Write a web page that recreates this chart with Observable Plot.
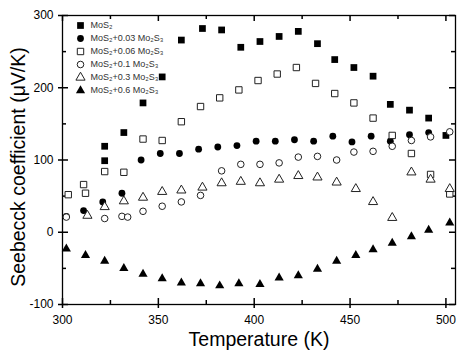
<!DOCTYPE html>
<html>
<head>
<meta charset="utf-8">
<script src="https://cdn.jsdelivr.net/npm/d3@7"></script>
<script src="https://cdn.jsdelivr.net/npm/@observablehq/plot@0.6"></script>
<style>
  html, body { margin: 0; padding: 0; background: #fff; }
  #chart svg { display: block; }
</style>
</head>
<body>
<div id="chart"></div>
<script>
// Tick values
const xMajor = [300, 350, 400, 450, 500];
const xMinor = [325, 375, 425, 475];
const yMajor = [-100, 0, 100, 200, 300];
const yMinor = [-50, 50, 150, 250];

const xLabel = "Temperature (K)";
const yLabel = "Seebecck coefficient (\u03BCV/K)";

// Series labels
const labels = [
  "MoS\u2082",
  "MoS\u2082+0.03 Mo\u2082S\u2083",
  "MoS\u2082+0.06 Mo\u2082S\u2083",
  "MoS\u2082+0.1 Mo\u2082S\u2083",
  "MoS\u2082+0.3 Mo\u2082S\u2083",
  "MoS\u2082+0.6 Mo\u2082S\u2083"
];

// MoS2
const tA = [322,322,332,342,352,362,373,383,393,403,413,423,433,442,452,462,471,481,491,500];
const sA = [99,119,138,179,215,266,282,280,256,264,271,278,261,239,228,216,177,169,158,134];
// MoS2 + 0.03 Mo2S3
const tB = [302,311,321,331,341,351,361,371,381,391,401,411,421,431,441,451,461,471,481,491];
const sB = [22,30,42,54,100,109,109,115,118,120,126,126,128,126,133,125,133,126,135,138];
// MoS2 + 0.06 Mo2S3
const tC = [303,311,312,322,332,342,352,362,372,382,392,402,412,422,432,442,452,462,472,482,492,502];
const sC = [52,66,54,84,83,129,127,153,174,186,197,210,219,228,206,192,179,158,134,109,80,53];
// MoS2 + 0.1 Mo2S3
const tD = [302,322,331,334,342,352,362,372,383,393,403,413,423,433,443,452,462,472,482,492,502];
const sD = [21,19,22,21,29,36,42,51,85,94,94,96,104,105,100,111,112,119,127,132,139];
// MoS2 + 0.3 Mo2S3
const tE = [313,322,332,342,352,362,373,383,393,403,413,423,433,443,453,462,472,482,492,502];
const sE = [23,35,43,48,56,58,62,68,70,68,73,78,76,69,60,42,20,83,73,60];
// MoS2 + 0.6 Mo2S3
const tF = [302,312,322,332,342,352,362,372,382,392,403,413,423,433,443,453,462,472,482,491,502];
const sF = [-23,-32,-40,-50,-58,-64,-70,-71,-74,-71,-72,-63,-60,-51,-40,-32,-24,-15,-6,3,13];

const series = [
  {t: tA, s: sA, symbol: "square",   fill: "#000", stroke: "none", r: 3.8},
  {t: tB, s: sB, symbol: "circle",   fill: "#000", stroke: "none", r: 3.4},
  {t: tC, s: sC, symbol: "square",   fill: "#fff", stroke: "#222", r: 3.6},
  {t: tD, s: sD, symbol: "circle",   fill: "#fff", stroke: "#222", r: 3.3},
  {t: tE, s: sE, symbol: "triangle", fill: "#fff", stroke: "#222", r: 3.4},
  {t: tF, s: sF, symbol: "triangle", fill: "#000", stroke: "none", r: 3.4}
];

const W = 474, H = 354;
const mL = 62, mR = 19, mT = 15, mB = 50;
const fw = W - mL - mR, fh = H - mT - mB;
const tk = {stroke: "#000", strokeWidth: 1.5};
const id = d => d;
const fmt = d => `${d}`;

const marks = [
  // ticks: bottom (major crossing, minor inside)
  Plot.tickX(xMajor, {x: id, insetTop: fh - 6, insetBottom: -4, ...tk}),
  Plot.tickX(xMinor, {x: id, insetTop: fh - 4, ...tk}),
  // top
  Plot.tickX(xMajor, {x: id, insetBottom: fh - 6, ...tk}),
  Plot.tickX(xMinor, {x: id, insetBottom: fh - 4, ...tk}),
  // left
  Plot.tickY(yMajor, {y: id, insetRight: fw - 6, insetLeft: -4, ...tk}),
  Plot.tickY(yMinor, {y: id, insetRight: fw - 4, ...tk}),
  // right
  Plot.tickY(yMajor, {y: id, insetLeft: fw - 6, ...tk}),
  Plot.tickY(yMinor, {y: id, insetLeft: fw - 4, ...tk}),
  Plot.frame({stroke: "#000", strokeWidth: 1.3}),
  // tick labels
  Plot.axisX({anchor: "bottom", ticks: xMajor, tickSize: 0, tickPadding: 11, tickFormat: fmt, label: null, fontSize: 12, fill: "#000"}),
  Plot.axisY({anchor: "left", ticks: yMajor, tickSize: 0, tickPadding: 9, tickFormat: fmt, label: null, fontSize: 12, fill: "#000"}),
  // axis titles
  Plot.text([xLabel], {frameAnchor: "bottom", text: id, dy: 35, lineAnchor: "middle", textAnchor: "middle", fontSize: 19.5, fill: "#000"}),
  Plot.text([yLabel], {frameAnchor: "left", text: id, rotate: -90, dx: -44, dy: 7, lineAnchor: "middle", textAnchor: "middle", fontSize: 19.5, fill: "#000"})
];

series.forEach((se) => {
  const rows = se.t.map((t, j) => ({t, s: se.s[j]}));
  marks.push(Plot.dot(rows, {x: "t", y: "s", symbol: se.symbol, r: se.r, fill: se.fill, stroke: se.stroke, strokeWidth: 1}));
});

// legend
series.forEach((se, i) => {
  marks.push(Plot.dot([labels[i]], {frameAnchor: "top-left", dx: 18, dy: 10 + 13 * i, symbol: se.symbol, r: se.r, fill: se.fill, stroke: se.stroke, strokeWidth: 1}));
  marks.push(Plot.text([labels[i]], {frameAnchor: "top-left", text: id, dx: 28, dy: 10 + 13 * i, textAnchor: "start", lineAnchor: "middle", fontSize: 9, fill: "#333"}));
});

const chart = Plot.plot({
  width: W,
  height: H,
  marginLeft: mL,
  marginRight: mR,
  marginTop: mT,
  marginBottom: mB,
  style: {fontFamily: "'Liberation Sans', Arial, sans-serif", background: "#fff", color: "#000"},
  x: {domain: [300, 505]},
  y: {domain: [-100, 300]},
  marks
});
document.getElementById("chart").appendChild(chart);
</script>
</body>
</html>
